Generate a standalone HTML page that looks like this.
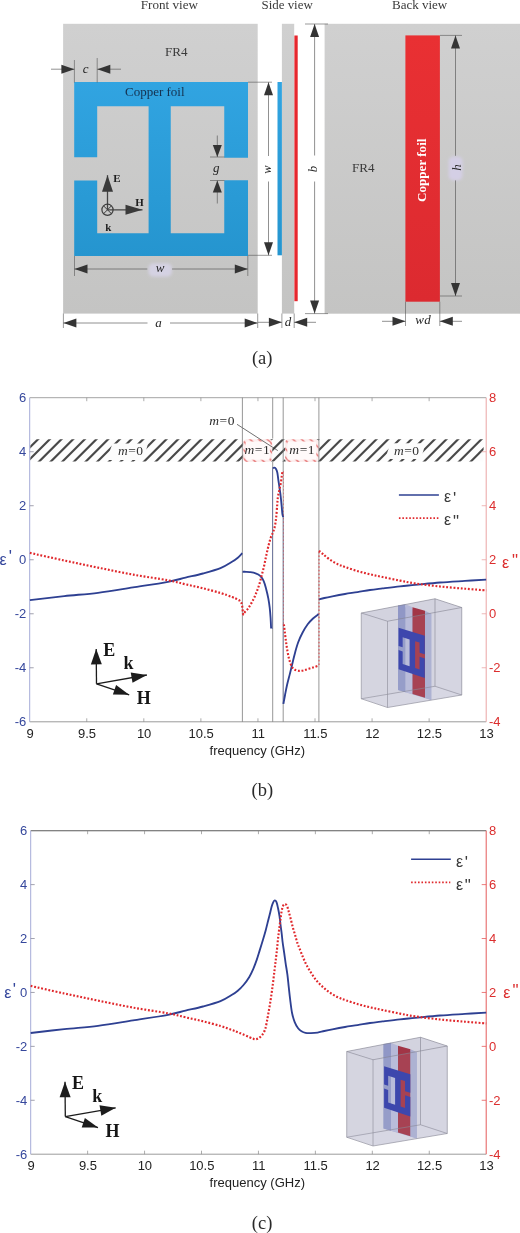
<!DOCTYPE html>
<html lang="en">
<head>
<meta charset="utf-8">
<title>Figure</title>
<style>
html,body{margin:0;padding:0;background:#fff;}
body{width:520px;height:1233px;overflow:hidden;}
svg{display:block;}
</style>
</head>
<body>
<svg width="520" height="1233" viewBox="0 0 520 1233">
<defs>
<linearGradient id="ggray" x1="0" y1="0" x2="0" y2="1"><stop offset="0" stop-color="#d0d0d0"/><stop offset="1" stop-color="#c4c4c3"/></linearGradient>
<linearGradient id="gred" x1="0" y1="0" x2="0" y2="1"><stop offset="0" stop-color="#e93033"/><stop offset="1" stop-color="#dc2a30"/></linearGradient>
<linearGradient id="gblue" x1="0" y1="0" x2="0" y2="1"><stop offset="0" stop-color="#31a4e1"/><stop offset="1" stop-color="#2595cf"/></linearGradient>
<pattern id="redhatch" width="8.6" height="8.6" patternUnits="userSpaceOnUse"><rect width="8.6" height="8.6" fill="#fdeeee"/><path d="M-2,-2 L10.6,10.6 M-2,6.6 L2,10.6 M6.6,-2 L10.6,2" stroke="#e36a6a" stroke-width="1.4" fill="none"/></pattern>
<filter id="soft" x="-20%" y="-20%" width="140%" height="140%"><feGaussianBlur stdDeviation="1.6"/></filter>
<clipPath id="hatchclipB"><rect x="30.2" y="439.2" width="453.4" height="22.3"/></clipPath>
</defs>
<!-- (a) -->
<g id="partA">
<text x="140.8" y="9.2" font-family='"Liberation Serif", serif' font-size="13.1" fill="#3a3a3a">Front view</text>
<text x="261.5" y="9.2" font-family='"Liberation Serif", serif' font-size="12.9" fill="#3a3a3a">Side view</text>
<text x="392" y="9.2" font-family='"Liberation Serif", serif' font-size="13" fill="#3a3a3a">Back view</text>
<rect x="63.1" y="23.8" width="194.6" height="289.8" fill="url(#ggray)"/>
<rect x="281.9" y="23.8" width="12.3" height="289.8" fill="url(#ggray)"/>
<rect x="324.6" y="23.8" width="195.4" height="289.9" fill="url(#ggray)"/>
<path d="M74.2,82 H248 V157.8 H224.25 V106.25 H170.75 V233.2 H224.25 V180.2 H248 V256 H74.2 V180.4 H97.2 V233.2 H148.6 V106.25 H97.2 V157.3 H74.2 Z" fill="url(#gblue)"/>
<rect x="277.5" y="82" width="4.4" height="173.3" fill="url(#gblue)"/>
<rect x="294.4" y="35.5" width="3.3" height="265.7" fill="#e6272e"/>
<rect x="405.4" y="35.4" width="34.5" height="266.3" fill="url(#gred)"/>
<text x="165" y="56" font-family='"Liberation Serif", serif' font-size="13.1" fill="#3a3a3a">FR4</text>
<text x="125" y="96" font-family='"Liberation Serif", serif' font-size="13" fill="#15314f">Copper foil</text>
<text x="352" y="172.3" font-family='"Liberation Serif", serif' font-size="13.1" fill="#3a3a3a">FR4</text>
<text x="426.3" y="202" font-family='"Liberation Serif", serif' font-size="13.1" fill="#ffffff" font-weight="bold" transform="rotate(-90 426.3 202)">Copper foil</text>
<line x1="74.4" y1="60" x2="74.4" y2="82.5" stroke="#555" stroke-width="0.6" />
<line x1="97.2" y1="58" x2="97.2" y2="82.5" stroke="#555" stroke-width="0.6" />
<line x1="51" y1="69.2" x2="74.4" y2="69.2" stroke="#555" stroke-width="0.65" />
<polygon points="74.4,69.2 61.4,73.7 61.4,64.7" fill="#343434"/>
<line x1="121" y1="69.2" x2="97.3" y2="69.2" stroke="#555" stroke-width="0.65" />
<polygon points="97.3,69.2 110.3,64.7 110.3,73.7" fill="#343434"/>
<text x="85.7" y="73.1" font-family='"Liberation Serif", serif' font-size="13" fill="#262626" text-anchor="middle" font-style="italic">c</text>
<line x1="210" y1="157" x2="224.5" y2="157" stroke="#555" stroke-width="0.6" />
<line x1="210" y1="180.5" x2="224.5" y2="180.5" stroke="#555" stroke-width="0.6" />
<line x1="217.3" y1="135.5" x2="217.3" y2="157" stroke="#555" stroke-width="0.65" />
<polygon points="217.3,157 212.8,145 221.8,145" fill="#343434"/>
<line x1="217.3" y1="203.5" x2="217.3" y2="180.5" stroke="#555" stroke-width="0.65" />
<polygon points="217.3,180.5 221.8,192.5 212.8,192.5" fill="#343434"/>
<text x="216.3" y="171.9" font-family='"Liberation Serif", serif' font-size="13" fill="#262626" text-anchor="middle" font-style="italic">g</text>
<line x1="74.5" y1="256" x2="74.5" y2="276" stroke="#555" stroke-width="0.6" />
<line x1="247.8" y1="256" x2="247.8" y2="276" stroke="#555" stroke-width="0.6" />
<rect x="148.5" y="263.3" width="23.5" height="13.5" rx="5" fill="#dad5ec" fill-opacity="0.75" filter="url(#soft)"/>
<line x1="147.3" y1="269" x2="74.5" y2="269" stroke="#555" stroke-width="0.65" />
<polygon points="74.5,269 87.5,264.5 87.5,273.5" fill="#343434"/>
<line x1="172" y1="269" x2="247.8" y2="269" stroke="#555" stroke-width="0.65" />
<polygon points="247.8,269 234.8,273.5 234.8,264.5" fill="#343434"/>
<text x="160" y="272.3" font-family='"Liberation Serif", serif' font-size="13" fill="#262626" text-anchor="middle" font-style="italic">w</text>
<line x1="63.4" y1="313.5" x2="63.4" y2="328" stroke="#555" stroke-width="0.6" />
<line x1="257.7" y1="313.5" x2="257.7" y2="328" stroke="#555" stroke-width="0.6" />
<line x1="147.5" y1="323" x2="63.4" y2="323" stroke="#555" stroke-width="0.65" />
<polygon points="63.4,323 76.4,318.5 76.4,327.5" fill="#343434"/>
<line x1="170" y1="323" x2="257.7" y2="323" stroke="#555" stroke-width="0.65" />
<polygon points="257.7,323 244.7,327.5 244.7,318.5" fill="#343434"/>
<text x="158.4" y="327.1" font-family='"Liberation Serif", serif' font-size="13" fill="#262626" text-anchor="middle" font-style="italic">a</text>
<line x1="248" y1="82.2" x2="272" y2="82.2" stroke="#555" stroke-width="0.6" />
<line x1="248" y1="255.3" x2="272" y2="255.3" stroke="#555" stroke-width="0.6" />
<line x1="268.5" y1="156" x2="268.5" y2="82.2" stroke="#555" stroke-width="0.65" />
<polygon points="268.5,82.2 273,95.2 264,95.2" fill="#343434"/>
<line x1="268.5" y1="181.5" x2="268.5" y2="255.3" stroke="#555" stroke-width="0.65" />
<polygon points="268.5,255.3 264,242.3 273,242.3" fill="#343434"/>
<text x="271.3" y="169.6" font-family='"Liberation Serif", serif' font-size="12.5" fill="#262626" text-anchor="middle" font-style="italic" transform="rotate(-90 271.3 169.6)">w</text>
<line x1="305" y1="24" x2="328" y2="24" stroke="#555" stroke-width="0.6" />
<line x1="305" y1="313.6" x2="328" y2="313.6" stroke="#555" stroke-width="0.6" />
<line x1="314.6" y1="155.5" x2="314.6" y2="24" stroke="#555" stroke-width="0.65" />
<polygon points="314.6,24 319.1,37 310.1,37" fill="#343434"/>
<line x1="314.6" y1="181.5" x2="314.6" y2="313.6" stroke="#555" stroke-width="0.65" />
<polygon points="314.6,313.6 310.1,300.6 319.1,300.6" fill="#343434"/>
<text x="316.6" y="169.1" font-family='"Liberation Serif", serif' font-size="12.8" fill="#262626" text-anchor="middle" font-style="italic" transform="rotate(-90 316.6 169.1)">b</text>
<line x1="281.9" y1="313.5" x2="281.9" y2="328" stroke="#555" stroke-width="0.6" />
<line x1="294.2" y1="313.5" x2="294.2" y2="328" stroke="#555" stroke-width="0.6" />
<line x1="258" y1="322.3" x2="281.9" y2="322.3" stroke="#555" stroke-width="0.65" />
<polygon points="281.9,322.3 268.9,326.8 268.9,317.8" fill="#343434"/>
<line x1="316" y1="322.3" x2="294.2" y2="322.3" stroke="#555" stroke-width="0.65" />
<polygon points="294.2,322.3 307.2,317.8 307.2,326.8" fill="#343434"/>
<text x="288.1" y="325.8" font-family='"Liberation Serif", serif' font-size="13" fill="#262626" text-anchor="middle" font-style="italic">d</text>
<line x1="440" y1="35.4" x2="462" y2="35.4" stroke="#555" stroke-width="0.6" />
<line x1="440" y1="296" x2="462" y2="296" stroke="#555" stroke-width="0.6" />
<rect x="448.6" y="156.5" width="14" height="24" rx="5" fill="#d6d0ea" fill-opacity="0.85" filter="url(#soft)"/>
<line x1="455.5" y1="155.8" x2="455.5" y2="35.4" stroke="#555" stroke-width="0.65" />
<polygon points="455.5,35.4 460,48.4 451,48.4" fill="#343434"/>
<line x1="455.5" y1="180.4" x2="455.5" y2="296" stroke="#555" stroke-width="0.65" />
<polygon points="455.5,296 451,283 460,283" fill="#343434"/>
<text x="460.6" y="167.6" font-family='"Liberation Serif", serif' font-size="13" fill="#262626" text-anchor="middle" font-style="italic" transform="rotate(-90 460.6 167.6)">h</text>
<line x1="405.5" y1="301.7" x2="405.5" y2="326" stroke="#555" stroke-width="0.6" />
<line x1="439.8" y1="301.7" x2="439.8" y2="326" stroke="#555" stroke-width="0.6" />
<line x1="382" y1="321.3" x2="405.5" y2="321.3" stroke="#555" stroke-width="0.65" />
<polygon points="405.5,321.3 392.5,325.8 392.5,316.8" fill="#343434"/>
<line x1="462" y1="321.3" x2="439.8" y2="321.3" stroke="#555" stroke-width="0.65" />
<polygon points="439.8,321.3 452.8,316.8 452.8,325.8" fill="#343434"/>
<text x="423.3" y="324.4" font-family='"Liberation Serif", serif' font-size="13" fill="#262626" text-anchor="middle" font-style="italic" letter-spacing="0.5">wd</text>
<line x1="107.5" y1="209.8" x2="107.5" y2="175.2" stroke="#444" stroke-width="1.3" />
<polygon points="107.5,175.2 113,191.8 102,191.8" fill="#3a3a3a"/>
<line x1="107.5" y1="209.8" x2="142.5" y2="209.8" stroke="#444" stroke-width="1.3" />
<polygon points="142.5,209.8 125.5,214.8 125.5,204.8" fill="#3a3a3a"/>
<circle cx="107.5" cy="209.8" r="5.6" fill="none" stroke="#3c3c3c" stroke-width="1.2"/>
<line x1="103.6" y1="205.9" x2="111.4" y2="213.7" stroke="#3c3c3c" stroke-width="1.0" />
<line x1="103.6" y1="213.7" x2="111.4" y2="205.9" stroke="#3c3c3c" stroke-width="1.0" />
<text x="113.3" y="182.3" font-family='"Liberation Serif", serif' font-size="11" fill="#1e1e1e" font-weight="bold">E</text>
<text x="135.2" y="205.6" font-family='"Liberation Serif", serif' font-size="11" fill="#1e1e1e" font-weight="bold">H</text>
<text x="105.2" y="231" font-family='"Liberation Serif", serif' font-size="11" fill="#1e1e1e" font-weight="bold">k</text>
<text x="262.2" y="363.7" font-family='"Liberation Serif", serif' font-size="18.5" fill="#2a2a2a" text-anchor="middle">(a)</text>
</g>
<!-- (b) -->
<g id="partB">
<rect x="30.2" y="439.2" width="453.4" height="22.3" fill="#fdfdfd"/>
<g clip-path="url(#hatchclipB)">
<line x1="16.8" y1="437.2" x2="-9.5" y2="463.5" stroke="#484848" stroke-width="2.15" />
<line x1="28.47" y1="437.2" x2="2.17" y2="463.5" stroke="#484848" stroke-width="2.15" />
<line x1="40.13" y1="437.2" x2="13.83" y2="463.5" stroke="#484848" stroke-width="2.15" />
<line x1="51.8" y1="437.2" x2="25.5" y2="463.5" stroke="#484848" stroke-width="2.15" />
<line x1="63.47" y1="437.2" x2="37.17" y2="463.5" stroke="#484848" stroke-width="2.15" />
<line x1="75.14" y1="437.2" x2="48.84" y2="463.5" stroke="#484848" stroke-width="2.15" />
<line x1="86.8" y1="437.2" x2="60.5" y2="463.5" stroke="#484848" stroke-width="2.15" />
<line x1="98.47" y1="437.2" x2="72.17" y2="463.5" stroke="#484848" stroke-width="2.15" />
<line x1="110.14" y1="437.2" x2="83.84" y2="463.5" stroke="#484848" stroke-width="2.15" />
<line x1="121.8" y1="437.2" x2="95.5" y2="463.5" stroke="#484848" stroke-width="2.15" />
<line x1="133.47" y1="437.2" x2="107.17" y2="463.5" stroke="#484848" stroke-width="2.15" />
<line x1="145.14" y1="437.2" x2="118.84" y2="463.5" stroke="#484848" stroke-width="2.15" />
<line x1="156.8" y1="437.2" x2="130.5" y2="463.5" stroke="#484848" stroke-width="2.15" />
<line x1="168.47" y1="437.2" x2="142.17" y2="463.5" stroke="#484848" stroke-width="2.15" />
<line x1="180.14" y1="437.2" x2="153.84" y2="463.5" stroke="#484848" stroke-width="2.15" />
<line x1="191.81" y1="437.2" x2="165.5" y2="463.5" stroke="#484848" stroke-width="2.15" />
<line x1="203.47" y1="437.2" x2="177.17" y2="463.5" stroke="#484848" stroke-width="2.15" />
<line x1="215.14" y1="437.2" x2="188.84" y2="463.5" stroke="#484848" stroke-width="2.15" />
<line x1="226.81" y1="437.2" x2="200.51" y2="463.5" stroke="#484848" stroke-width="2.15" />
<line x1="238.47" y1="437.2" x2="212.17" y2="463.5" stroke="#484848" stroke-width="2.15" />
<line x1="250.14" y1="437.2" x2="223.84" y2="463.5" stroke="#484848" stroke-width="2.15" />
<line x1="261.81" y1="437.2" x2="235.51" y2="463.5" stroke="#484848" stroke-width="2.15" />
<line x1="273.47" y1="437.2" x2="247.17" y2="463.5" stroke="#484848" stroke-width="2.15" />
<line x1="285.14" y1="437.2" x2="258.84" y2="463.5" stroke="#484848" stroke-width="2.15" />
<line x1="296.81" y1="437.2" x2="270.51" y2="463.5" stroke="#484848" stroke-width="2.15" />
<line x1="308.47" y1="437.2" x2="282.17" y2="463.5" stroke="#484848" stroke-width="2.15" />
<line x1="320.14" y1="437.2" x2="293.84" y2="463.5" stroke="#484848" stroke-width="2.15" />
<line x1="331.81" y1="437.2" x2="305.51" y2="463.5" stroke="#484848" stroke-width="2.15" />
<line x1="343.48" y1="437.2" x2="317.18" y2="463.5" stroke="#484848" stroke-width="2.15" />
<line x1="355.14" y1="437.2" x2="328.84" y2="463.5" stroke="#484848" stroke-width="2.15" />
<line x1="366.81" y1="437.2" x2="340.51" y2="463.5" stroke="#484848" stroke-width="2.15" />
<line x1="378.48" y1="437.2" x2="352.18" y2="463.5" stroke="#484848" stroke-width="2.15" />
<line x1="390.14" y1="437.2" x2="363.84" y2="463.5" stroke="#484848" stroke-width="2.15" />
<line x1="401.81" y1="437.2" x2="375.51" y2="463.5" stroke="#484848" stroke-width="2.15" />
<line x1="413.48" y1="437.2" x2="387.18" y2="463.5" stroke="#484848" stroke-width="2.15" />
<line x1="425.14" y1="437.2" x2="398.84" y2="463.5" stroke="#484848" stroke-width="2.15" />
<line x1="436.81" y1="437.2" x2="410.51" y2="463.5" stroke="#484848" stroke-width="2.15" />
<line x1="448.48" y1="437.2" x2="422.18" y2="463.5" stroke="#484848" stroke-width="2.15" />
<line x1="460.15" y1="437.2" x2="433.85" y2="463.5" stroke="#484848" stroke-width="2.15" />
<line x1="471.81" y1="437.2" x2="445.51" y2="463.5" stroke="#484848" stroke-width="2.15" />
<line x1="483.48" y1="437.2" x2="457.18" y2="463.5" stroke="#484848" stroke-width="2.15" />
<line x1="495.15" y1="437.2" x2="468.85" y2="463.5" stroke="#484848" stroke-width="2.15" />
</g>
<path d="M112.5,443.4 H148 L143.5,460 H106.5 Z" fill="#fcfcfc"/>
<path d="M390.5,443.3 H425.5 L421,458.9 H385 Z" fill="#fcfcfc"/>
<text x="118" y="454.8" font-family='"Liberation Serif", serif' font-size="13.5" fill="#333" letter-spacing="0.45"><tspan font-style="italic">m</tspan>=0</text>
<text x="394" y="455.3" font-family='"Liberation Serif", serif' font-size="13.5" fill="#333" letter-spacing="0.45"><tspan font-style="italic">m</tspan>=0</text>
<rect x="243.3" y="439.1" width="28.9" height="23" rx="3.5" fill="#fffafa"/>
<rect x="244.5" y="440.3" width="26.5" height="20.6" rx="3" fill="none" stroke="url(#redhatch)" stroke-width="2.2"/>
<rect x="285" y="439.1" width="33.6" height="23" rx="3.5" fill="#fffafa"/>
<rect x="286.2" y="440.3" width="31.2" height="20.6" rx="3" fill="none" stroke="url(#redhatch)" stroke-width="2.2"/>
<text x="244.5" y="453.8" font-family='"Liberation Serif", serif' font-size="13.5" fill="#2c2c2c" letter-spacing="0.6"><tspan font-style="italic">m</tspan>=1</text>
<text x="289.3" y="453.8" font-family='"Liberation Serif", serif' font-size="13.5" fill="#2c2c2c" letter-spacing="0.6"><tspan font-style="italic">m</tspan>=1</text>
<text x="209.2" y="424.8" font-family='"Liberation Serif", serif' font-size="13.5" fill="#2c2c2c" letter-spacing="0.55"><tspan font-style="italic">m</tspan>=0</text>
<line x1="237" y1="424.3" x2="277.8" y2="450.6" stroke="#333" stroke-width="0.7" />
<line x1="29.7" y1="397.7" x2="486.2" y2="397.7" stroke="#9a9a9a" stroke-width="0.9" />
<line x1="29.7" y1="721.8" x2="486.2" y2="721.8" stroke="#909090" stroke-width="0.9" />
<line x1="29.7" y1="397.7" x2="29.7" y2="721.8" stroke="#a6acd8" stroke-width="1" />
<line x1="486.2" y1="397.7" x2="486.2" y2="721.8" stroke="#eaa4a4" stroke-width="1" />
<text x="30" y="737.8" font-family='"Liberation Sans", sans-serif' font-size="13" fill="#222" text-anchor="middle">9</text>
<line x1="86.76" y1="721.8" x2="86.76" y2="718.3" stroke="#888" stroke-width="0.7" />
<line x1="86.76" y1="397.7" x2="86.76" y2="401.2" stroke="#888" stroke-width="0.7" />
<text x="87.06" y="737.8" font-family='"Liberation Sans", sans-serif' font-size="13" fill="#222" text-anchor="middle">9.5</text>
<line x1="143.82" y1="721.8" x2="143.82" y2="718.3" stroke="#888" stroke-width="0.7" />
<line x1="143.82" y1="397.7" x2="143.82" y2="401.2" stroke="#888" stroke-width="0.7" />
<text x="144.12" y="737.8" font-family='"Liberation Sans", sans-serif' font-size="13" fill="#222" text-anchor="middle">10</text>
<line x1="200.89" y1="721.8" x2="200.89" y2="718.3" stroke="#888" stroke-width="0.7" />
<line x1="200.89" y1="397.7" x2="200.89" y2="401.2" stroke="#888" stroke-width="0.7" />
<text x="201.19" y="737.8" font-family='"Liberation Sans", sans-serif' font-size="13" fill="#222" text-anchor="middle">10.5</text>
<line x1="257.95" y1="721.8" x2="257.95" y2="718.3" stroke="#888" stroke-width="0.7" />
<line x1="257.95" y1="397.7" x2="257.95" y2="401.2" stroke="#888" stroke-width="0.7" />
<text x="258.25" y="737.8" font-family='"Liberation Sans", sans-serif' font-size="13" fill="#222" text-anchor="middle">11</text>
<line x1="315.01" y1="721.8" x2="315.01" y2="718.3" stroke="#888" stroke-width="0.7" />
<line x1="315.01" y1="397.7" x2="315.01" y2="401.2" stroke="#888" stroke-width="0.7" />
<text x="315.31" y="737.8" font-family='"Liberation Sans", sans-serif' font-size="13" fill="#222" text-anchor="middle">11.5</text>
<line x1="372.07" y1="721.8" x2="372.07" y2="718.3" stroke="#888" stroke-width="0.7" />
<line x1="372.07" y1="397.7" x2="372.07" y2="401.2" stroke="#888" stroke-width="0.7" />
<text x="372.38" y="737.8" font-family='"Liberation Sans", sans-serif' font-size="13" fill="#222" text-anchor="middle">12</text>
<line x1="429.14" y1="721.8" x2="429.14" y2="718.3" stroke="#888" stroke-width="0.7" />
<line x1="429.14" y1="397.7" x2="429.14" y2="401.2" stroke="#888" stroke-width="0.7" />
<text x="429.44" y="737.8" font-family='"Liberation Sans", sans-serif' font-size="13" fill="#222" text-anchor="middle">12.5</text>
<text x="486.5" y="737.8" font-family='"Liberation Sans", sans-serif' font-size="13" fill="#222" text-anchor="middle">13</text>
<text x="26.3" y="726.4" font-family='"Liberation Sans", sans-serif' font-size="13" fill="#35479c" text-anchor="end">-6</text>
<line x1="29.7" y1="667.78" x2="33.7" y2="667.78" stroke="#8a8a9a" stroke-width="0.8" />
<text x="26.3" y="672.38" font-family='"Liberation Sans", sans-serif' font-size="13" fill="#35479c" text-anchor="end">-4</text>
<line x1="29.7" y1="613.77" x2="33.7" y2="613.77" stroke="#8a8a9a" stroke-width="0.8" />
<text x="26.3" y="618.37" font-family='"Liberation Sans", sans-serif' font-size="13" fill="#35479c" text-anchor="end">-2</text>
<line x1="29.7" y1="559.75" x2="33.7" y2="559.75" stroke="#8a8a9a" stroke-width="0.8" />
<text x="26.3" y="564.35" font-family='"Liberation Sans", sans-serif' font-size="13" fill="#35479c" text-anchor="end">0</text>
<line x1="29.7" y1="505.73" x2="33.7" y2="505.73" stroke="#8a8a9a" stroke-width="0.8" />
<text x="26.3" y="510.33" font-family='"Liberation Sans", sans-serif' font-size="13" fill="#35479c" text-anchor="end">2</text>
<line x1="29.7" y1="451.72" x2="33.7" y2="451.72" stroke="#8a8a9a" stroke-width="0.8" />
<text x="26.3" y="456.32" font-family='"Liberation Sans", sans-serif' font-size="13" fill="#35479c" text-anchor="end">4</text>
<text x="26.3" y="402.3" font-family='"Liberation Sans", sans-serif' font-size="13" fill="#35479c" text-anchor="end">6</text>
<text x="489" y="726.4" font-family='"Liberation Sans", sans-serif' font-size="13" fill="#dc2e2e">-4</text>
<line x1="486.2" y1="667.78" x2="481.7" y2="667.78" stroke="#eaa4a4" stroke-width="0.8" />
<text x="489" y="672.38" font-family='"Liberation Sans", sans-serif' font-size="13" fill="#dc2e2e">-2</text>
<line x1="486.2" y1="613.77" x2="481.7" y2="613.77" stroke="#eaa4a4" stroke-width="0.8" />
<text x="489" y="618.37" font-family='"Liberation Sans", sans-serif' font-size="13" fill="#dc2e2e">0</text>
<line x1="486.2" y1="559.75" x2="481.7" y2="559.75" stroke="#eaa4a4" stroke-width="0.8" />
<text x="489" y="564.35" font-family='"Liberation Sans", sans-serif' font-size="13" fill="#dc2e2e">2</text>
<line x1="486.2" y1="505.73" x2="481.7" y2="505.73" stroke="#eaa4a4" stroke-width="0.8" />
<text x="489" y="510.33" font-family='"Liberation Sans", sans-serif' font-size="13" fill="#dc2e2e">4</text>
<line x1="486.2" y1="451.72" x2="481.7" y2="451.72" stroke="#eaa4a4" stroke-width="0.8" />
<text x="489" y="456.32" font-family='"Liberation Sans", sans-serif' font-size="13" fill="#dc2e2e">6</text>
<text x="489" y="402.3" font-family='"Liberation Sans", sans-serif' font-size="13" fill="#dc2e2e">8</text>
<text x="6.7" y="564.55" font-family='"Liberation Sans", sans-serif' font-size="16" fill="#35479c" text-anchor="end">ε</text>
<text x="10.3" y="561.75" font-family='"Liberation Sans", sans-serif' font-size="17" fill="#35479c" text-anchor="middle">'</text>
<text x="502.1" y="567.65" font-family='"Liberation Sans", sans-serif' font-size="16" fill="#dc2e2e">ε</text>
<text x="515" y="565.65" font-family='"Liberation Sans", sans-serif' font-size="17" fill="#dc2e2e" text-anchor="middle">"</text>
<text x="257.3" y="754.5" font-family='"Liberation Sans", sans-serif' font-size="13" fill="#222" text-anchor="middle">frequency (GHz)</text>
<line x1="242.4" y1="397.7" x2="242.4" y2="721.8" stroke="#7c7c7c" stroke-width="0.8" />
<line x1="283.2" y1="397.7" x2="283.2" y2="721.8" stroke="#7c7c7c" stroke-width="0.8" />
<line x1="318.9" y1="397.7" x2="318.9" y2="721.8" stroke="#7c7c7c" stroke-width="0.8" />
<line x1="272.7" y1="397.7" x2="272.7" y2="438.6" stroke="#7c7c7c" stroke-width="0.8" />
<line x1="272.7" y1="462" x2="272.7" y2="721.8" stroke="#7c7c7c" stroke-width="0.8" />
<path d="M29.9,600.1 C35.63,599.43 52.95,597.32 64.3,596.1 C75.65,594.88 86.55,594.25 98,592.8 C109.45,591.35 121.33,589.23 133,587.4 C144.67,585.57 159.25,583.43 168,581.8 C176.75,580.17 179.67,578.98 185.5,577.6 C191.33,576.22 197.17,575.07 203,573.5 C208.83,571.93 215.67,570.15 220.5,568.2 C225.33,566.25 229.12,563.54 232,561.8 C234.88,560.06 236.1,559.18 237.8,557.75 C239.5,556.32 241.47,553.96 242.2,553.2" fill="none" stroke="#2e4092" stroke-width="1.85" stroke-linejoin="round" stroke-linecap="butt"/>
<path d="M242.6,571.8 C243.17,571.8 244.8,571.75 246,571.8 C247.2,571.85 248.2,571.85 249.8,572.1 C251.4,572.35 253.87,572.67 255.6,573.3 C257.33,573.93 258.85,574.6 260.2,575.9 C261.55,577.2 262.7,578.88 263.7,581.1 C264.7,583.32 265.43,586.32 266.2,589.2 C266.97,592.08 267.72,595.32 268.3,598.4 C268.88,601.48 269.32,604.43 269.7,607.7 C270.08,610.97 270.37,614.53 270.6,618 C270.83,621.47 271.02,626.75 271.1,628.5" fill="none" stroke="#2e4092" stroke-width="1.85" stroke-linejoin="round" stroke-linecap="butt"/>
<path d="M272.5,629 V468.3" stroke="#2e4092" stroke-width="0.8" stroke-opacity="0.55" fill="none"/>
<path d="M272.7,468.2 C272.98,468.1 273.85,467.47 274.4,467.6 C274.95,467.73 275.52,468.18 276,469 C276.48,469.82 276.88,470.5 277.3,472.5 C277.72,474.5 278.12,478.33 278.5,481 C278.88,483.67 279.23,485.92 279.6,488.5 C279.97,491.08 280.35,493.5 280.7,496.5 C281.05,499.5 281.42,503.58 281.7,506.5 C281.98,509.42 282.15,512.25 282.4,514 C282.65,515.75 283.07,516.5 283.2,517" fill="none" stroke="#2e4092" stroke-width="1.85" stroke-linejoin="round" stroke-linecap="butt"/>
<path d="M283.2,516 V704" stroke="#2e4092" stroke-width="0.8" stroke-opacity="0.45" fill="none"/>
<path d="M283.4,703.9 C283.67,702.45 284.38,698.4 285,695.2 C285.62,692 286.3,688.22 287.1,684.7 C287.9,681.18 288.92,677.63 289.8,674.1 C290.68,670.57 291.53,667.03 292.4,663.5 C293.27,659.97 294.03,656.43 295,652.9 C295.97,649.37 296.95,645.65 298.2,642.3 C299.45,638.95 300.92,635.8 302.5,632.8 C304.08,629.8 305.95,626.68 307.7,624.3 C309.45,621.92 311.18,620.2 313,618.5 C314.82,616.8 317.67,614.83 318.6,614.1" fill="none" stroke="#2e4092" stroke-width="1.85" stroke-linejoin="round" stroke-linecap="butt"/>
<path d="M319,599.5 C319.88,599.25 322.07,598.53 324.3,598 C326.53,597.47 328.95,596.97 332.4,596.3 C335.85,595.63 340.82,594.7 345,594 C349.18,593.3 353.33,592.77 357.5,592.1 C361.67,591.43 365.83,590.62 370,590 C374.17,589.38 377.5,589.02 382.5,588.4 C387.5,587.78 394.58,586.88 400,586.3 C405.42,585.72 408.33,585.53 415,584.9 C421.67,584.27 431.67,583.17 440,582.5 C448.33,581.83 457.3,581.38 465,580.9 C472.7,580.42 482.67,579.82 486.2,579.6" fill="none" stroke="#2e4092" stroke-width="1.85" stroke-linejoin="round" stroke-linecap="butt"/>
<path d="M29.9,552.9 C35.63,554.17 52.95,558.05 64.3,560.5 C75.65,562.95 86.55,565.25 98,567.6 C109.45,569.95 121.33,572.48 133,574.6 C144.67,576.72 159.25,578.68 168,580.3 C176.75,581.92 179.67,582.97 185.5,584.3 C191.33,585.63 197.17,586.85 203,588.3 C208.83,589.75 215.67,591.55 220.5,593 C225.33,594.45 229.12,595.92 232,597 C234.88,598.08 236.38,598.75 237.8,599.5 C239.22,600.25 239.8,600.58 240.5,601.5 C241.2,602.42 241.58,602.96 242,605 C242.42,607.04 242.83,612.29 243,613.75 L243.3,614.5 C243.53,614.13 243.8,613.43 244.7,612.3 C245.6,611.17 247.27,609.82 248.7,607.7 C250.13,605.58 251.95,602.3 253.3,599.6 C254.65,596.9 255.75,594.2 256.8,591.5 C257.85,588.8 258.73,586.28 259.6,583.4 C260.47,580.52 261.22,577.27 262,574.2 C262.78,571.13 263.6,568.07 264.3,565 C265,561.93 265.53,558.88 266.2,555.8 C266.87,552.72 267.57,549.47 268.3,546.5 C269.03,543.53 269.83,540.33 270.6,538 C271.37,535.67 272.22,534.33 272.9,532.5 C273.58,530.67 274.17,529.42 274.7,527 C275.23,524.58 275.68,521.67 276.1,518 C276.52,514.33 276.9,508.5 277.2,505 C277.5,501.5 277.55,499.47 277.9,497 C278.25,494.53 278.82,492.53 279.3,490.2 C279.78,487.87 280.38,485.4 280.8,483 C281.22,480.6 281.5,477.8 281.8,475.8 C282.1,473.8 282.47,471.8 282.6,471" fill="none" stroke="#e0282c" stroke-width="2.15" stroke-dasharray="1.85 1.78" stroke-linejoin="round"/>
<path d="M283.5,471 V624" stroke="#e0282c" stroke-width="1" stroke-opacity="0.4" stroke-dasharray="1.6 2" fill="none"/>
<path d="M283.9,624.3 C284.08,625.9 284.63,630.9 285,633.9 C285.37,636.9 285.7,639.48 286.1,642.3 C286.5,645.12 286.88,647.97 287.4,650.8 C287.92,653.63 288.45,656.65 289.2,659.3 C289.95,661.95 290.93,664.95 291.9,666.7 C292.87,668.45 293.77,669.1 295,669.8 C296.23,670.5 297.88,670.8 299.3,670.9 C300.72,671 301.92,670.75 303.5,670.4 C305.08,670.05 307.03,669.33 308.8,668.8 C310.57,668.27 312.47,667.73 314.1,667.2 C315.73,666.67 317.85,665.87 318.6,665.6" fill="none" stroke="#e0282c" stroke-width="2.15" stroke-dasharray="1.85 1.78" stroke-linejoin="round"/>
<path d="M319,665 V552" fill="none" stroke="#e0282c" stroke-width="1" stroke-dasharray="1.6 2" stroke-opacity="0.85"/>
<path d="M319,550.8 C319.67,551.35 321.22,552.65 323,554.1 C324.78,555.55 327.23,557.82 329.7,559.5 C332.17,561.18 335.1,562.9 337.8,564.2 C340.5,565.5 342.53,566.13 345.9,567.3 C349.27,568.47 353.98,570.03 358,571.2 C362.02,572.37 365.92,573.33 370,574.3 C374.08,575.27 377.5,575.95 382.5,577 C387.5,578.05 394.58,579.53 400,580.6 C405.42,581.67 408.33,582.42 415,583.4 C421.67,584.38 431.67,585.62 440,586.5 C448.33,587.38 457.3,588.05 465,588.7 C472.7,589.35 482.67,590.12 486.2,590.4" fill="none" stroke="#e0282c" stroke-width="2.15" stroke-dasharray="1.85 1.78" stroke-linejoin="round"/>
<line x1="398.9" y1="494.9" x2="438.9" y2="494.9" stroke="#2e4092" stroke-width="1.5" />
<line x1="398.9" y1="518.1" x2="438.4" y2="518.1" stroke="#e0282c" stroke-width="1.7" stroke-dasharray="1.6 1.85"/>
<text x="444.1" y="502.3" font-family='"Liberation Sans", sans-serif' font-size="16" fill="#3c3c3c">ε</text>
<text x="454.5" y="503.8" font-family='"Liberation Sans", sans-serif' font-size="17" fill="#3c3c3c" text-anchor="middle">'</text>
<text x="444.1" y="525.4" font-family='"Liberation Sans", sans-serif' font-size="16" fill="#3c3c3c">ε</text>
<text x="455.9" y="526.9" font-family='"Liberation Sans", sans-serif' font-size="17" fill="#3c3c3c" text-anchor="middle">"</text>
<line x1="96.5" y1="683.8" x2="96.2" y2="648.9" stroke="#1c1c1c" stroke-width="1.3" />
<polygon points="96.2,648.9 101.83,664.35 90.83,664.45" fill="#1c1c1c"/>
<line x1="96.5" y1="683.8" x2="146.9" y2="675" stroke="#1c1c1c" stroke-width="1.3" />
<polygon points="146.9,675 132.53,682.84 130.73,672.49" fill="#1c1c1c"/>
<line x1="96.5" y1="683.8" x2="129.2" y2="694.8" stroke="#1c1c1c" stroke-width="1.3" />
<polygon points="129.2,694.8 112.91,694.6 116.1,685.12" fill="#1c1c1c"/>
<text x="103.2" y="656" font-family='"Liberation Serif", serif' font-size="18" fill="#161616" font-weight="bold">E</text>
<text x="123.4" y="668.9" font-family='"Liberation Serif", serif' font-size="18" fill="#161616" font-weight="bold">k</text>
<text x="136.8" y="704.2" font-family='"Liberation Serif", serif' font-size="18" fill="#161616" font-weight="bold">H</text>
<g>
<polygon points="361.25,613 435,598.75 461.75,607.5 461.75,695 387.5,707.5 361.25,698.75" fill="#d6d6e2"/>
<polygon points="361.25,613 435,598.75 435,686.25 361.25,698.75" fill="#cfcfdc" fill-opacity="0.5"/>
<polygon points="435,598.75 461.75,607.5 461.75,695 435,686.25" fill="#d2d2de" fill-opacity="0.5"/>
<polygon points="398,605.5 431.25,613.75 431.25,700 398,690" fill="#a4a9cf"/>
<polygon points="398,605.5 405.5,604.2 405.5,692.2 398,690" fill="#9097c6"/>
<polygon points="405.5,604.2 412.5,607.2 412.5,694 405.5,692.2" fill="#b6b9d8"/>
<polygon points="412.5,607.2 425,610.8 425,697.8 412.5,694" fill="#a23546"/>
<polygon points="425,610.8 431.25,613.75 431.25,700 425,697.8" fill="#a9aed0"/>
<polygon points="398.6,627.7 424.8,635.8 424.8,654.32 419.56,652.65 419.56,642.58 415.11,641.18 415.11,667.98 419.56,669.44 419.56,656.85 424.8,658.53 424.8,677.9 398.6,669.2 398.6,650.11 402.66,651.42 402.66,663.89 409.6,666.17 409.6,639.45 402.66,637.27 402.66,647.26 398.6,645.96" fill="#2f3aa8"/>
<line x1="361.25" y1="613" x2="435" y2="598.75" stroke="#82828e" stroke-width="0.6" />
<line x1="435" y1="598.75" x2="461.75" y2="607.5" stroke="#82828e" stroke-width="0.6" />
<line x1="461.75" y1="607.5" x2="387.5" y2="621.25" stroke="#82828e" stroke-width="0.6" />
<line x1="387.5" y1="621.25" x2="361.25" y2="613" stroke="#82828e" stroke-width="0.6" />
<line x1="361.25" y1="613" x2="361.25" y2="698.75" stroke="#82828e" stroke-width="0.6" />
<line x1="387.5" y1="621.25" x2="387.5" y2="707.5" stroke="#82828e" stroke-width="0.6" />
<line x1="461.75" y1="607.5" x2="461.75" y2="695" stroke="#82828e" stroke-width="0.6" />
<line x1="361.25" y1="698.75" x2="387.5" y2="707.5" stroke="#82828e" stroke-width="0.6" />
<line x1="387.5" y1="707.5" x2="461.75" y2="695" stroke="#82828e" stroke-width="0.6" />
<line x1="435" y1="598.75" x2="435" y2="686.25" stroke="#82828e" stroke-width="0.6" />
<line x1="361.25" y1="698.75" x2="435" y2="686.25" stroke="#82828e" stroke-width="0.6" />
<line x1="435" y1="686.25" x2="461.75" y2="695" stroke="#82828e" stroke-width="0.6" />
<polygon points="361.25,613 387.5,621.25 387.5,707.5 361.25,698.75" fill="#e4e4ee" fill-opacity="0.12"/>
<polygon points="387.5,621.25 461.75,607.5 461.75,695 387.5,707.5" fill="#e4e4ee" fill-opacity="0.08"/>
</g>
<text x="262.4" y="796" font-family='"Liberation Serif", serif' font-size="18.5" fill="#2a2a2a" text-anchor="middle">(b)</text>
</g>
<!-- (c) -->
<g id="partC">
<line x1="30.7" y1="830.7" x2="486.2" y2="830.7" stroke="#5a5a5a" stroke-width="1.1" />
<line x1="30.7" y1="1154.2" x2="486.2" y2="1154.2" stroke="#909090" stroke-width="0.9" />
<line x1="30.7" y1="830.7" x2="30.7" y2="1154.2" stroke="#a6acd8" stroke-width="1" />
<line x1="486.2" y1="830.7" x2="486.2" y2="1154.2" stroke="#e45a5a" stroke-width="1" />
<text x="31" y="1170.2" font-family='"Liberation Sans", sans-serif' font-size="13" fill="#222" text-anchor="middle">9</text>
<line x1="87.64" y1="1154.2" x2="87.64" y2="1150.7" stroke="#888" stroke-width="0.7" />
<line x1="87.64" y1="830.7" x2="87.64" y2="834.2" stroke="#888" stroke-width="0.7" />
<text x="87.94" y="1170.2" font-family='"Liberation Sans", sans-serif' font-size="13" fill="#222" text-anchor="middle">9.5</text>
<line x1="144.57" y1="1154.2" x2="144.57" y2="1150.7" stroke="#888" stroke-width="0.7" />
<line x1="144.57" y1="830.7" x2="144.57" y2="834.2" stroke="#888" stroke-width="0.7" />
<text x="144.88" y="1170.2" font-family='"Liberation Sans", sans-serif' font-size="13" fill="#222" text-anchor="middle">10</text>
<line x1="201.51" y1="1154.2" x2="201.51" y2="1150.7" stroke="#888" stroke-width="0.7" />
<line x1="201.51" y1="830.7" x2="201.51" y2="834.2" stroke="#888" stroke-width="0.7" />
<text x="201.81" y="1170.2" font-family='"Liberation Sans", sans-serif' font-size="13" fill="#222" text-anchor="middle">10.5</text>
<line x1="258.45" y1="1154.2" x2="258.45" y2="1150.7" stroke="#888" stroke-width="0.7" />
<line x1="258.45" y1="830.7" x2="258.45" y2="834.2" stroke="#888" stroke-width="0.7" />
<text x="258.75" y="1170.2" font-family='"Liberation Sans", sans-serif' font-size="13" fill="#222" text-anchor="middle">11</text>
<line x1="315.39" y1="1154.2" x2="315.39" y2="1150.7" stroke="#888" stroke-width="0.7" />
<line x1="315.39" y1="830.7" x2="315.39" y2="834.2" stroke="#888" stroke-width="0.7" />
<text x="315.69" y="1170.2" font-family='"Liberation Sans", sans-serif' font-size="13" fill="#222" text-anchor="middle">11.5</text>
<line x1="372.32" y1="1154.2" x2="372.32" y2="1150.7" stroke="#888" stroke-width="0.7" />
<line x1="372.32" y1="830.7" x2="372.32" y2="834.2" stroke="#888" stroke-width="0.7" />
<text x="372.62" y="1170.2" font-family='"Liberation Sans", sans-serif' font-size="13" fill="#222" text-anchor="middle">12</text>
<line x1="429.26" y1="1154.2" x2="429.26" y2="1150.7" stroke="#888" stroke-width="0.7" />
<line x1="429.26" y1="830.7" x2="429.26" y2="834.2" stroke="#888" stroke-width="0.7" />
<text x="429.56" y="1170.2" font-family='"Liberation Sans", sans-serif' font-size="13" fill="#222" text-anchor="middle">12.5</text>
<text x="486.5" y="1170.2" font-family='"Liberation Sans", sans-serif' font-size="13" fill="#222" text-anchor="middle">13</text>
<text x="27.3" y="1158.8" font-family='"Liberation Sans", sans-serif' font-size="13" fill="#35479c" text-anchor="end">-6</text>
<line x1="30.7" y1="1100.28" x2="34.7" y2="1100.28" stroke="#8a8a9a" stroke-width="0.8" />
<text x="27.3" y="1104.88" font-family='"Liberation Sans", sans-serif' font-size="13" fill="#35479c" text-anchor="end">-4</text>
<line x1="30.7" y1="1046.37" x2="34.7" y2="1046.37" stroke="#8a8a9a" stroke-width="0.8" />
<text x="27.3" y="1050.97" font-family='"Liberation Sans", sans-serif' font-size="13" fill="#35479c" text-anchor="end">-2</text>
<line x1="30.7" y1="992.45" x2="34.7" y2="992.45" stroke="#8a8a9a" stroke-width="0.8" />
<text x="27.3" y="997.05" font-family='"Liberation Sans", sans-serif' font-size="13" fill="#35479c" text-anchor="end">0</text>
<line x1="30.7" y1="938.53" x2="34.7" y2="938.53" stroke="#8a8a9a" stroke-width="0.8" />
<text x="27.3" y="943.13" font-family='"Liberation Sans", sans-serif' font-size="13" fill="#35479c" text-anchor="end">2</text>
<line x1="30.7" y1="884.62" x2="34.7" y2="884.62" stroke="#8a8a9a" stroke-width="0.8" />
<text x="27.3" y="889.22" font-family='"Liberation Sans", sans-serif' font-size="13" fill="#35479c" text-anchor="end">4</text>
<text x="27.3" y="835.3" font-family='"Liberation Sans", sans-serif' font-size="13" fill="#35479c" text-anchor="end">6</text>
<text x="489" y="1158.8" font-family='"Liberation Sans", sans-serif' font-size="13" fill="#dc2e2e">-4</text>
<line x1="486.2" y1="1100.28" x2="481.7" y2="1100.28" stroke="#e45a5a" stroke-width="0.8" />
<text x="489" y="1104.88" font-family='"Liberation Sans", sans-serif' font-size="13" fill="#dc2e2e">-2</text>
<line x1="486.2" y1="1046.37" x2="481.7" y2="1046.37" stroke="#e45a5a" stroke-width="0.8" />
<text x="489" y="1050.97" font-family='"Liberation Sans", sans-serif' font-size="13" fill="#dc2e2e">0</text>
<line x1="486.2" y1="992.45" x2="481.7" y2="992.45" stroke="#e45a5a" stroke-width="0.8" />
<text x="489" y="997.05" font-family='"Liberation Sans", sans-serif' font-size="13" fill="#dc2e2e">2</text>
<line x1="486.2" y1="938.53" x2="481.7" y2="938.53" stroke="#e45a5a" stroke-width="0.8" />
<text x="489" y="943.13" font-family='"Liberation Sans", sans-serif' font-size="13" fill="#dc2e2e">4</text>
<line x1="486.2" y1="884.62" x2="481.7" y2="884.62" stroke="#e45a5a" stroke-width="0.8" />
<text x="489" y="889.22" font-family='"Liberation Sans", sans-serif' font-size="13" fill="#dc2e2e">6</text>
<text x="489" y="835.3" font-family='"Liberation Sans", sans-serif' font-size="13" fill="#dc2e2e">8</text>
<text x="11.4" y="997.85" font-family='"Liberation Sans", sans-serif' font-size="16" fill="#35479c" text-anchor="end">ε</text>
<text x="14.3" y="995.45" font-family='"Liberation Sans", sans-serif' font-size="17" fill="#35479c" text-anchor="middle">'</text>
<text x="503.3" y="997.85" font-family='"Liberation Sans", sans-serif' font-size="16" fill="#dc2e2e">ε</text>
<text x="515.6" y="995.75" font-family='"Liberation Sans", sans-serif' font-size="17" fill="#dc2e2e" text-anchor="middle">"</text>
<text x="257.3" y="1186.9" font-family='"Liberation Sans", sans-serif' font-size="13" fill="#222" text-anchor="middle">frequency (GHz)</text>
<path d="M30.7,1033 C36.3,1032.35 53.08,1030.3 64.3,1029.1 C75.52,1027.9 86.55,1027.25 98,1025.8 C109.45,1024.35 121.33,1022.23 133,1020.4 C144.67,1018.57 159.25,1016.43 168,1014.8 C176.75,1013.17 179.67,1011.98 185.5,1010.6 C191.33,1009.22 197.17,1008.07 203,1006.5 C208.83,1004.93 215.67,1003.15 220.5,1001.2 C225.33,999.25 229.12,996.54 232,994.8 C234.88,993.06 235.88,992.38 237.8,990.75 C239.72,989.12 241.58,987.31 243.5,985 C245.42,982.69 247.67,979.6 249.3,976.9 C250.93,974.2 252.05,971.68 253.3,968.8 C254.55,965.92 255.73,962.67 256.8,959.6 C257.87,956.53 258.68,953.67 259.7,950.4 C260.72,947.13 261.88,943.42 262.9,940 C263.92,936.58 264.93,933.12 265.8,929.9 C266.67,926.68 267.42,923.38 268.1,920.7 C268.78,918.02 269.32,916.12 269.9,913.8 C270.48,911.48 271.03,908.73 271.6,906.8 C272.17,904.87 272.77,903.27 273.3,902.2 C273.83,901.13 274.27,900.4 274.8,900.4 C275.33,900.4 275.97,900.93 276.5,902.2 C277.03,903.47 277.5,905.68 278,908 C278.5,910.32 279.07,913.22 279.5,916.1 C279.93,918.98 280.22,922.23 280.6,925.3 C280.98,928.37 281.47,931.72 281.8,934.5 C282.13,937.28 282.2,938.92 282.6,942 C283,945.08 283.7,949.48 284.2,953 C284.7,956.52 285.07,959.5 285.6,963.1 C286.13,966.7 286.88,970.68 287.4,974.6 C287.92,978.52 288.25,982.53 288.7,986.6 C289.15,990.67 289.55,994.65 290.1,999 C290.65,1003.35 291.23,1008.85 292,1012.7 C292.77,1016.55 293.68,1019.52 294.7,1022.1 C295.72,1024.68 296.97,1026.67 298.1,1028.2 C299.23,1029.73 300.27,1030.52 301.5,1031.3 C302.73,1032.08 303.93,1032.6 305.5,1032.9 C307.07,1033.2 308.88,1033.15 310.9,1033.1 C312.92,1033.05 315.37,1032.95 317.6,1032.6 C319.83,1032.25 321.83,1031.55 324.3,1031 C326.77,1030.45 328.95,1029.97 332.4,1029.3 C335.85,1028.63 340.82,1027.7 345,1027 C349.18,1026.3 353.33,1025.77 357.5,1025.1 C361.67,1024.43 365.83,1023.62 370,1023 C374.17,1022.38 377.5,1022.02 382.5,1021.4 C387.5,1020.78 394.58,1019.88 400,1019.3 C405.42,1018.72 408.33,1018.53 415,1017.9 C421.67,1017.27 431.67,1016.17 440,1015.5 C448.33,1014.83 457.3,1014.38 465,1013.9 C472.7,1013.42 482.67,1012.82 486.2,1012.6" fill="none" stroke="#2e4092" stroke-width="1.85" stroke-linejoin="round" stroke-linecap="butt"/>
<path d="M30.7,985.9 C36.3,987.17 53.08,991.05 64.3,993.5 C75.52,995.95 86.55,998.25 98,1000.6 C109.45,1002.95 121.33,1005.48 133,1007.6 C144.67,1009.72 159.25,1011.68 168,1013.3 C176.75,1014.92 179.67,1015.97 185.5,1017.3 C191.33,1018.63 197.17,1019.85 203,1021.3 C208.83,1022.75 215.67,1024.55 220.5,1026 C225.33,1027.45 229.12,1028.95 232,1030 C234.88,1031.05 235.88,1031.53 237.8,1032.3 C239.72,1033.07 241.58,1033.8 243.5,1034.6 C245.42,1035.4 247.72,1036.43 249.3,1037.1 C250.88,1037.77 251.95,1038.23 253,1038.6 C254.05,1038.97 254.68,1039.37 255.6,1039.3 C256.52,1039.23 257.43,1038.88 258.5,1038.2 C259.57,1037.52 260.93,1036.57 262,1035.2 C263.07,1033.83 264.13,1032.03 264.9,1030 C265.67,1027.97 266.03,1025.7 266.6,1023 C267.17,1020.3 267.72,1017.07 268.3,1013.8 C268.88,1010.53 269.52,1007.05 270.1,1003.4 C270.68,999.75 271.27,995.73 271.8,991.9 C272.33,988.07 272.82,984.25 273.3,980.4 C273.78,976.55 274.28,972.27 274.7,968.8 C275.12,965.33 275.42,962.87 275.8,959.6 C276.18,956.33 276.63,952.62 277,949.2 C277.37,945.78 277.65,942.32 278,939.1 C278.35,935.88 278.68,933.25 279.1,929.9 C279.52,926.55 280.08,922.07 280.5,919 C280.92,915.93 281.23,913.53 281.6,911.5 C281.97,909.47 282.28,908 282.7,906.8 C283.12,905.6 283.6,904.72 284.1,904.3 C284.6,903.88 285.18,903.97 285.7,904.3 C286.22,904.63 286.7,905.1 287.2,906.3 C287.7,907.5 288.13,909.48 288.7,911.5 C289.27,913.52 289.9,915.72 290.6,918.4 C291.3,921.08 292.12,924.72 292.9,927.6 C293.68,930.48 294.52,933.02 295.3,935.7 C296.08,938.38 296.92,941.63 297.6,943.7 C298.28,945.77 298.53,945.92 299.4,948.1 C300.27,950.28 301.57,953.88 302.8,956.8 C304.03,959.72 305.33,962.8 306.8,965.6 C308.27,968.4 309.92,971.03 311.6,973.6 C313.28,976.17 315,978.75 316.9,981 C318.8,983.25 320.87,985.18 323,987.1 C325.13,989.02 327.23,990.82 329.7,992.5 C332.17,994.18 335.1,995.9 337.8,997.2 C340.5,998.5 342.53,999.13 345.9,1000.3 C349.27,1001.47 353.98,1003.03 358,1004.2 C362.02,1005.37 365.92,1006.33 370,1007.3 C374.08,1008.27 377.5,1008.95 382.5,1010 C387.5,1011.05 394.58,1012.53 400,1013.6 C405.42,1014.67 408.33,1015.42 415,1016.4 C421.67,1017.38 431.67,1018.62 440,1019.5 C448.33,1020.38 457.3,1021.05 465,1021.7 C472.7,1022.35 482.67,1023.12 486.2,1023.4" fill="none" stroke="#e0282c" stroke-width="2.15" stroke-dasharray="1.85 1.78" stroke-linejoin="round"/>
<line x1="411.1" y1="859.2" x2="450.8" y2="859.2" stroke="#2e4092" stroke-width="1.5" />
<line x1="411.1" y1="882.4" x2="450.3" y2="882.4" stroke="#e0282c" stroke-width="1.7" stroke-dasharray="1.6 1.85"/>
<text x="456" y="866.6" font-family='"Liberation Sans", sans-serif' font-size="16" fill="#3c3c3c">ε</text>
<text x="466.4" y="868.1" font-family='"Liberation Sans", sans-serif' font-size="17" fill="#3c3c3c" text-anchor="middle">'</text>
<text x="456" y="889.7" font-family='"Liberation Sans", sans-serif' font-size="16" fill="#3c3c3c">ε</text>
<text x="467.8" y="891.2" font-family='"Liberation Sans", sans-serif' font-size="17" fill="#3c3c3c" text-anchor="middle">"</text>
<line x1="65.3" y1="1116.6" x2="65" y2="1081.7" stroke="#1c1c1c" stroke-width="1.3" />
<polygon points="65,1081.7 70.63,1097.15 59.63,1097.25" fill="#1c1c1c"/>
<line x1="65.3" y1="1116.6" x2="115.7" y2="1107.8" stroke="#1c1c1c" stroke-width="1.3" />
<polygon points="115.7,1107.8 101.33,1115.64 99.53,1105.29" fill="#1c1c1c"/>
<line x1="65.3" y1="1116.6" x2="98" y2="1127.6" stroke="#1c1c1c" stroke-width="1.3" />
<polygon points="98,1127.6 81.71,1127.4 84.9,1117.92" fill="#1c1c1c"/>
<text x="72" y="1088.8" font-family='"Liberation Serif", serif' font-size="18" fill="#161616" font-weight="bold">E</text>
<text x="92.2" y="1101.7" font-family='"Liberation Serif", serif' font-size="18" fill="#161616" font-weight="bold">k</text>
<text x="105.6" y="1137" font-family='"Liberation Serif", serif' font-size="18" fill="#161616" font-weight="bold">H</text>
<g>
<polygon points="346.75,1051.5 420.5,1037.25 447.25,1046 447.25,1133.5 373,1146 346.75,1137.25" fill="#d6d6e2"/>
<polygon points="346.75,1051.5 420.5,1037.25 420.5,1124.75 346.75,1137.25" fill="#cfcfdc" fill-opacity="0.5"/>
<polygon points="420.5,1037.25 447.25,1046 447.25,1133.5 420.5,1124.75" fill="#d2d2de" fill-opacity="0.5"/>
<polygon points="383.5,1044 416.75,1052.25 416.75,1138.5 383.5,1128.5" fill="#a4a9cf"/>
<polygon points="383.5,1044 391,1042.7 391,1130.7 383.5,1128.5" fill="#9097c6"/>
<polygon points="391,1042.7 398,1045.7 398,1132.5 391,1130.7" fill="#b6b9d8"/>
<polygon points="398,1045.7 410.5,1049.3 410.5,1136.3 398,1132.5" fill="#a23546"/>
<polygon points="410.5,1049.3 416.75,1052.25 416.75,1138.5 410.5,1136.3" fill="#a9aed0"/>
<polygon points="384.1,1066.2 410.3,1074.3 410.3,1092.82 405.06,1091.15 405.06,1081.08 400.61,1079.68 400.61,1106.48 405.06,1107.94 405.06,1095.35 410.3,1097.03 410.3,1116.4 384.1,1107.7 384.1,1088.61 388.16,1089.92 388.16,1102.39 395.1,1104.67 395.1,1077.95 388.16,1075.77 388.16,1085.76 384.1,1084.46" fill="#2f3aa8"/>
<line x1="346.75" y1="1051.5" x2="420.5" y2="1037.25" stroke="#82828e" stroke-width="0.6" />
<line x1="420.5" y1="1037.25" x2="447.25" y2="1046" stroke="#82828e" stroke-width="0.6" />
<line x1="447.25" y1="1046" x2="373" y2="1059.75" stroke="#82828e" stroke-width="0.6" />
<line x1="373" y1="1059.75" x2="346.75" y2="1051.5" stroke="#82828e" stroke-width="0.6" />
<line x1="346.75" y1="1051.5" x2="346.75" y2="1137.25" stroke="#82828e" stroke-width="0.6" />
<line x1="373" y1="1059.75" x2="373" y2="1146" stroke="#82828e" stroke-width="0.6" />
<line x1="447.25" y1="1046" x2="447.25" y2="1133.5" stroke="#82828e" stroke-width="0.6" />
<line x1="346.75" y1="1137.25" x2="373" y2="1146" stroke="#82828e" stroke-width="0.6" />
<line x1="373" y1="1146" x2="447.25" y2="1133.5" stroke="#82828e" stroke-width="0.6" />
<line x1="420.5" y1="1037.25" x2="420.5" y2="1124.75" stroke="#82828e" stroke-width="0.6" />
<line x1="346.75" y1="1137.25" x2="420.5" y2="1124.75" stroke="#82828e" stroke-width="0.6" />
<line x1="420.5" y1="1124.75" x2="447.25" y2="1133.5" stroke="#82828e" stroke-width="0.6" />
<polygon points="346.75,1051.5 373,1059.75 373,1146 346.75,1137.25" fill="#e4e4ee" fill-opacity="0.12"/>
<polygon points="373,1059.75 447.25,1046 447.25,1133.5 373,1146" fill="#e4e4ee" fill-opacity="0.08"/>
</g>
<text x="262.1" y="1228.7" font-family='"Liberation Serif", serif' font-size="18.5" fill="#2a2a2a" text-anchor="middle">(c)</text>
</g>
</svg>
</body>
</html>
